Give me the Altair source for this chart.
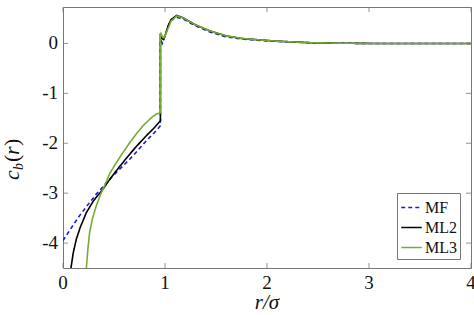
import altair as alt
import pandas as pd

# ---- data ----
mf_r = [0, 0.08, 0.163, 0.245, 0.327, 0.41, 0.49, 0.57, 0.654, 0.735, 0.817, 0.89, 0.955, 0.955, 0.975,
        1.0, 1.05, 1.11, 1.17, 1.28, 1.44, 1.6, 1.75, 1.93, 2.1, 2.26, 2.42, 2.7, 3.0, 3.5, 4.0]
mf_c = [-3.95, -3.7, -3.45, -3.23, -3.02, -2.83, -2.65, -2.49, -2.32, -2.14, -1.95, -1.8, -1.65, 0.08, 0.0,
        0.15, 0.45, 0.52, 0.5, 0.37, 0.23, 0.13, 0.09, 0.06, 0.04, 0.025, 0.012, 0.004, 0, 0, 0]

ml2_r = [0.078, 0.1, 0.131, 0.17, 0.229, 0.3, 0.392, 0.46, 0.523, 0.59, 0.654, 0.73, 0.817, 0.89, 0.955,
         0.955, 0.97, 0.985, 1.0, 1.03, 1.06, 1.115, 1.17, 1.28, 1.44, 1.6, 1.75, 1.93, 2.1, 2.26, 2.42,
         2.7, 3.0, 3.5, 4.0]
ml2_c = [-4.5, -4.2, -3.92, -3.68, -3.39, -3.15, -2.92, -2.72, -2.55, -2.38, -2.22, -2.04, -1.85, -1.7,
         -1.55, 0.15, 0.1, 0.08, 0.15, 0.35, 0.48, 0.56, 0.52, 0.39, 0.25, 0.15, 0.1, 0.07, 0.045, 0.03,
         0.015, 0.005, 0, 0, 0]

ml3_r = [0.229, 0.245, 0.261, 0.29, 0.327, 0.365, 0.408, 0.46, 0.523, 0.59, 0.654, 0.72, 0.784, 0.84,
         0.882, 0.92, 0.955, 0.955, 0.96, 0.97, 0.99, 1.02, 1.06, 1.115, 1.17, 1.28, 1.44, 1.6, 1.75, 1.93,
         2.1, 2.26, 2.42, 2.7, 3.0, 3.5, 4.0]
ml3_c = [-4.5, -4.1, -3.79, -3.5, -3.25, -3.04, -2.85, -2.6, -2.39, -2.18, -1.99, -1.81, -1.65, -1.54,
         -1.46, -1.41, -1.39, 0.17, 0.2, 0.15, 0.11, 0.25, 0.45, 0.55, 0.52, 0.39, 0.25, 0.15, 0.1, 0.07,
         0.045, 0.03, 0.015, 0.005, 0, 0, 0]

series_names = ["MF", "ML2", "ML3"]
series_colors = ["#1a1ae6", "#000000", "#77ac30"]
x_ticks = [0, 1, 2, 3, 4]
x_tick_labels = ["0", "1", "2", "3", "4"]
y_ticks = [-4, -3, -2, -1, 0]
y_tick_labels = ["-4", "-3", "-2", "-1", "0"]

rows = []
for name, rr, cc in zip(series_names, [mf_r, ml2_r, ml3_r], [mf_c, ml2_c, ml3_c]):
    for i, (a, b) in enumerate(zip(rr, cc)):
        rows.append({"series": name, "r": a, "c": b, "i": i})
df = pd.DataFrame(rows)

W, H = 408, 261
FONT = "Liberation Serif"
TC = "#777"
TXT = "#111"
xs = alt.Scale(domain=[0, 4], nice=False, zero=False)
ys = alt.Scale(domain=[-4.5, 0.73], nice=False, zero=False)

lines = alt.Chart(df).mark_line(clip=True, strokeWidth=1.6).encode(
    x=alt.X("r:Q", scale=xs, axis=None),
    y=alt.Y("c:Q", scale=ys, axis=None),
    color=alt.Color("series:N", scale=alt.Scale(domain=series_names, range=series_colors),
                    legend=alt.Legend(title=None)),
    strokeDash=alt.StrokeDash("series:N",
                              scale=alt.Scale(domain=series_names, range=[[4, 3], [1, 0], [1, 0]]),
                              legend=alt.Legend(title=None)),
    order="i:Q",
)

xt = pd.DataFrame({"r": x_ticks, "lab": x_tick_labels})
yt = pd.DataFrame({"c": y_ticks, "lab": y_tick_labels})
tick_bot = alt.Chart(xt).mark_rule(color=TC, strokeWidth=0.8).encode(
    x=alt.X("r:Q", scale=xs, axis=None), y=alt.value(H), y2=alt.value(H - 5))
tick_top = alt.Chart(xt).mark_rule(color=TC, strokeWidth=0.8).encode(
    x=alt.X("r:Q", scale=xs, axis=None), y=alt.value(0), y2=alt.value(5))
tick_left = alt.Chart(yt).mark_rule(color=TC, strokeWidth=0.8).encode(
    y=alt.Y("c:Q", scale=ys, axis=None), x=alt.value(0), x2=alt.value(5))
tick_right = alt.Chart(yt).mark_rule(color=TC, strokeWidth=0.8).encode(
    y=alt.Y("c:Q", scale=ys, axis=None), x=alt.value(W), x2=alt.value(W - 5))

x_labels = alt.Chart(xt).mark_text(font=FONT, fontSize=19, color=TXT, align="center",
                                   baseline="middle").encode(
    x=alt.X("r:Q", scale=xs, axis=None), y=alt.value(H + 15), text="lab:N")
y_labels = alt.Chart(yt).mark_text(font=FONT, fontSize=19, color=TXT, align="right",
                                   baseline="middle").encode(
    y=alt.Y("c:Q", scale=ys, axis=None), x=alt.value(-5), text="lab:N")

lab = pd.DataFrame({"k": [0]})


def txt(t, size, italic, x, y, angle=0, align="left"):
    kw = dict(text=t, font=FONT, fontSize=size, align=align, baseline="alphabetic", color=TXT)
    if angle:
        kw["angle"] = angle
    if italic:
        kw["fontStyle"] = "italic"
    return alt.Chart(lab).mark_text(**kw).encode(x=alt.value(x), y=alt.value(y))


x_title = txt("r/σ", 21, True, 204, 302, align="center")
y_title = [
    txt("c", 22, True, -44, 173, 270),
    txt("b", 14, True, -40, 163, 270),
    txt("(", 22, False, -44, 155, 270),
    txt("r", 22, True, -44, 148, 270),
    txt(")", 22, False, -44, 139, 270),
]

chart = alt.layer(lines, tick_bot, tick_top, tick_left, tick_right, x_labels, y_labels,
                  x_title, *y_title).properties(
    width=W, height=H,
    padding={"left": 63, "top": 7, "right": 3, "bottom": 47},
    autosize=alt.AutoSizeParams(type="none"),
    background="white",
).configure_view(stroke=TC, strokeWidth=1).configure_legend(
    orient="none", legendX=334, legendY=186, strokeColor=TC, fillColor="white",
    padding=3, rowPadding=0, symbolSize=420, symbolStrokeWidth=1.6, symbolType="stroke",
    labelFont=FONT, labelFontSize=16, labelColor=TXT, labelOffset=2,
)

chart.save("out.html", embed_options={"renderer": "svg", "actions": False})
